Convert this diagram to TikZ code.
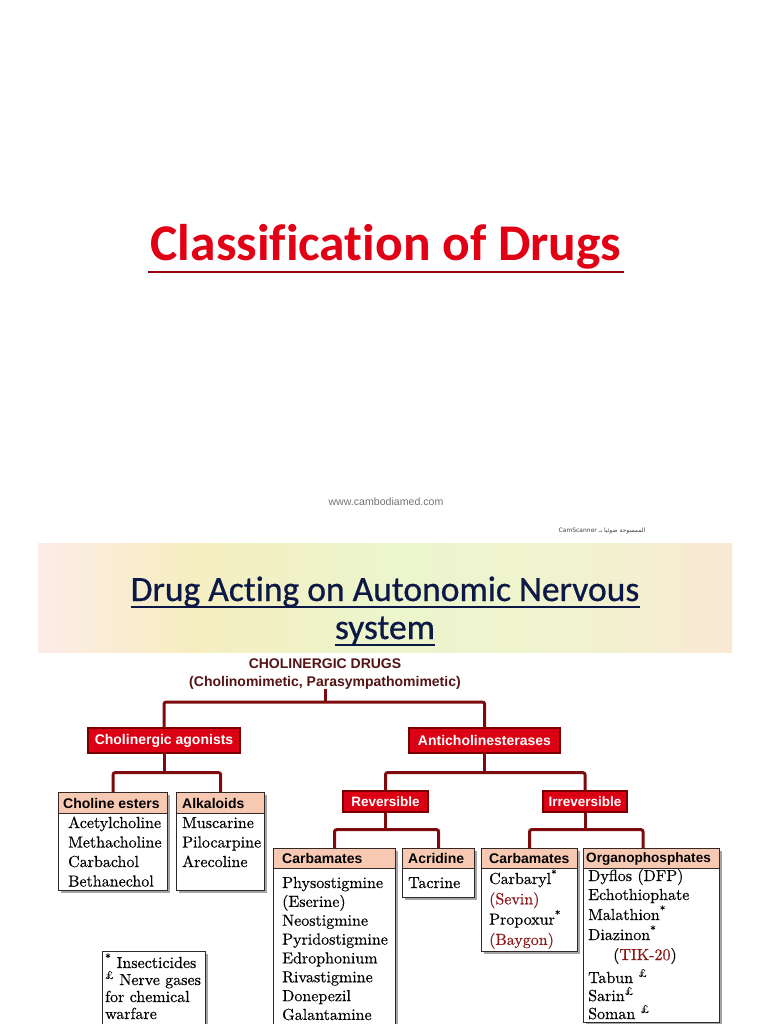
\documentclass[tikz,border=0pt]{standalone}
\usepackage{fontspec}
\usepackage{graphicx}
\usetikzlibrary{calc,shadows}
\TeXXeTstate=1
\newfontfamily\carl[Ligatures=NoCommon]{Carlito}
\newfontfamily\carlh[FakeBold=0.7,Ligatures=NoCommon]{Carlito}
\newfontfamily\lsans{Liberation Sans}
\newfontfamily\bodyf[FakeBold=0.4]{lmroman10-regular.otf}
\newfontfamily\arabicfont[Script=Arabic]{DejaVu Sans}
\definecolor{titlered}{RGB}{226,0,20}
\definecolor{titleline}{RGB}{150,0,10}
\definecolor{navy}{RGB}{12,24,70}
\definecolor{chtitle}{RGB}{85,20,20}
\definecolor{conncol}{RGB}{125,10,12}
\definecolor{boxred}{RGB}{220,0,20}
\definecolor{boxredline}{RGB}{120,0,0}
\definecolor{hdrfill}{RGB}{248,201,178}
\definecolor{boxline}{RGB}{50,40,40}
\definecolor{shadowc}{RGB}{165,165,165}
\definecolor{darkred}{RGB}{140,25,25}
\definecolor{pA}{RGB}{251,236,232}
\definecolor{pB}{RGB}{246,238,192}
\definecolor{pC}{RGB}{236,245,204}
\definecolor{pD}{RGB}{240,243,206}
\definecolor{pE}{RGB}{249,233,212}
\pgfdeclarehorizontalshading{panelshade}{100bp}{color(0bp)=(pA); color(25bp)=(pA); color(36bp)=(pB); color(50bp)=(pC); color(63bp)=(pD); color(75bp)=(pE); color(100bp)=(pE)}
\begin{document}
\begin{tikzpicture}[x=1bp,y=-1bp,
  conn/.style={draw=conncol,line width=3bp,rounded corners=2bp},
  redbox/.style={fill=boxred,draw=boxredline,line width=1.3bp,text=white,inner sep=0,
     font=\lsans\bfseries\fontsize{14bp}{16bp}\selectfont},
  outbox/.style={draw=boxline,line width=1.2bp,fill=white,inner sep=0,anchor=north west,
     drop shadow={shadow xshift=2.5bp,shadow yshift=-2.5bp,fill=shadowc,opacity=1}},
  hdr/.style={fill=hdrfill,draw=boxline,line width=1.2bp,inner sep=0,anchor=north west,minimum height=21bp},
  hdrtext/.style={anchor=west,inner sep=0,font=\lsans\bfseries\fontsize{14bp}{16bp}\selectfont},
  lst/.style={anchor=base west,inner sep=0,font=\bodyf\fontsize{16bp}{19bp}\selectfont},
  ]
\useasboundingbox (0,0) rectangle (768,1024);
\clip (0,0) rectangle (768,1024);
\fill[white] (0,0) rectangle (768,1024);

% title page
\node[anchor=base,inner sep=0,text=titlered] (ttl) at (386,260)
  {\carl\bfseries\fontsize{51.5bp}{60bp}\selectfont Classification of Drugs};
\draw[titleline,line width=2bp] ($(ttl.base west)+(-2,12)$) -- ($(ttl.base east)+(2,12)$);
\node[anchor=base,inner sep=0,text=black!55,font=\lsans\fontsize{10.6bp}{12bp}\selectfont] (web) at (386,505) {www.cambodiamed.com};
\node[anchor=base,inner sep=0,text=black!75,font=\arabicfont\fontsize{6bp}{7bp}\selectfont] (cs) at (602,532)
  {\beginR الممسوحة ضوئيا بـ \beginL CamScanner\endL\endR};

% panel
\shade[shading=panelshade] (38,543) rectangle (732,652);
\node[anchor=base,inner sep=0,text=navy,font=\carlh\fontsize{35.5bp}{40bp}\selectfont] (h1) at (385,601) {Drug Acting on Autonomic Nervous};
\draw[navy,line width=1.6bp] ($(h1.base west)+(0,6)$) -- ($(h1.base east)+(0,6)$);
\node[anchor=base,inner sep=0,text=navy,font=\carlh\fontsize{35.5bp}{40bp}\selectfont] (h2) at (385,639) {system};
\draw[navy,line width=1.6bp] ($(h2.base west)+(0,6)$) -- ($(h2.base east)+(0,6)$);

% chart titles
\node[anchor=base,inner sep=0,text=chtitle,font=\lsans\bfseries\fontsize{14bp}{16bp}\selectfont] (cd) at (325,668) {CHOLINERGIC DRUGS};
\node[anchor=base,inner sep=0,text=chtitle,font=\lsans\bfseries\fontsize{14bp}{16bp}\selectfont] (sub) at (325,686) {(Cholinomimetic, Parasympathomimetic)};

% red boxes
\node[redbox,minimum width=152bp,minimum height=25bp] (ag) at (164,740.5) {Cholinergic agonists};
\node[redbox,minimum width=151bp,minimum height=25bp] (ac) at (484.5,740.5) {Anticholinesterases};
\node[redbox,minimum width=85bp,minimum height=21bp,font=\lsans\bfseries\fontsize{13.5bp}{15bp}\selectfont] (rev) at (385.5,801.5) {Reversible};
\node[redbox,minimum width=84bp,minimum height=21bp,font=\lsans\bfseries\fontsize{13.5bp}{15bp}\selectfont] (irr) at (585,801.5) {Irreversible};

% boxes (outer bodies)
\node[outbox,minimum width=109bp,minimum height=98bp] (ce) at (58,792) {};
\node[outbox,minimum width=88bp,minimum height=98bp] (alk) at (176,792) {};
\node[outbox,minimum width=122bp,minimum height=200bp] (carbR) at (273,848) {};
\node[outbox,minimum width=72bp,minimum height=49bp] (acr) at (402,848) {};
\node[outbox,minimum width=96bp,minimum height=103bp] (carbI) at (481,848) {};
\node[outbox,minimum width=136bp,minimum height=174bp] (org) at (583,848) {};
\node[outbox,minimum width=103bp,minimum height=100bp] (leg) at (102,951) {};

% headers
\node[hdr,minimum width=109bp] (ceh) at (58,792) {};
\node[hdr,minimum width=88bp] (alkh) at (176,792) {};
\node[hdr,minimum width=122bp,minimum height=20bp] (carbRh) at (273,848) {};
\node[hdr,minimum width=72bp,minimum height=20bp] (acrh) at (402,848) {};
\node[hdr,minimum width=96bp,minimum height=20bp] (carbIh) at (481,848) {};
\node[hdr,minimum width=136bp,minimum height=20bp] (orgh) at (583,848) {};
\node[hdrtext] at ($(ceh.west)+(5,0)$) {Choline esters};
\node[hdrtext] at ($(alkh.west)+(6,0)$) {Alkaloids};
\node[hdrtext] at ($(carbRh.west)+(9,0)$) {Carbamates};
\node[hdrtext] at ($(acrh.west)+(6,0)$) {Acridine};
\node[hdrtext] at ($(carbIh.west)+(8,0)$) {Carbamates};
\node[hdrtext,font=\lsans\bfseries\fontsize{13.6bp}{16bp}\selectfont] at ($(orgh.west)+(3,0)$) {Organophosphates};

% connectors
\coordinate (oj) at (643,848);
\draw[conn] (sub.south) -- ++(0,13) coordinate (j0);
\draw[conn] (ag.north) |- (j0) -| (ac.north);
\draw[conn] (ag.south) -- ++(0,19) coordinate (j1);
\draw[conn] (ceh.north) |- (j1) -| (alkh.north);
\draw[conn] (ac.south) -- ++(0,19) coordinate (j2);
\draw[conn] (rev.north) |- (j2) -| (irr.north);
\draw[conn] (rev.south) -- ++(0,17) coordinate (j3);
\draw[conn] (carbRh.north) |- (j3) -| (acrh.north);
\draw[conn] (irr.south) -- ++(0,17) coordinate (j4);
\draw[conn] (carbIh.north) |- (j4) -| (oj);

% lists
\foreach \t [count=\i from 0] in {Acetylcholine,Methacholine,Carbachol,Bethanechol}
  \node[lst] at (68,828+19.5*\i) {\t};
\foreach \t [count=\i from 0] in {Muscarine,Pilocarpine,Arecoline}
  \node[lst] at (182,828+19.5*\i) {\t};
\foreach \t [count=\i from 0] in {Physostigmine,(Eserine),Neostigmine,Pyridostigmine,Edrophonium,Rivastigmine,Donepezil,Galantamine}
  \node[lst] at (282,888+18.85*\i) {\t};
\node[lst] at (408,888) {Tacrine};
\foreach \t [count=\i from 0] in {Carbaryl\textsuperscript{*},\textcolor{darkred}{(Sevin)},Propoxur\textsuperscript{*},\textcolor{darkred}{(Baygon)}}
  \node[lst] at (489,884+20.3*\i) {\t};
\foreach \yy/\t in {881/Dyflos (DFP),900/Echothiophate,920/Malathion\textsuperscript{*},940/Diazinon\textsuperscript{*},983/Tabun \textsuperscript{£},1001/Sarin\textsuperscript{£},1019/Soman \textsuperscript{£}}
  \node[lst] at (588,\yy) {\t};
\node[lst] at (613,960) {(\textcolor{darkred}{TIK-20})};
\foreach \t [count=\i from 0] in {\textsuperscript{*} Insecticides,\textsuperscript{£} Nerve gases,for chemical,warfare}
  \node[lst] at (105,968+17*\i) {\t};
\end{tikzpicture}
\end{document}
